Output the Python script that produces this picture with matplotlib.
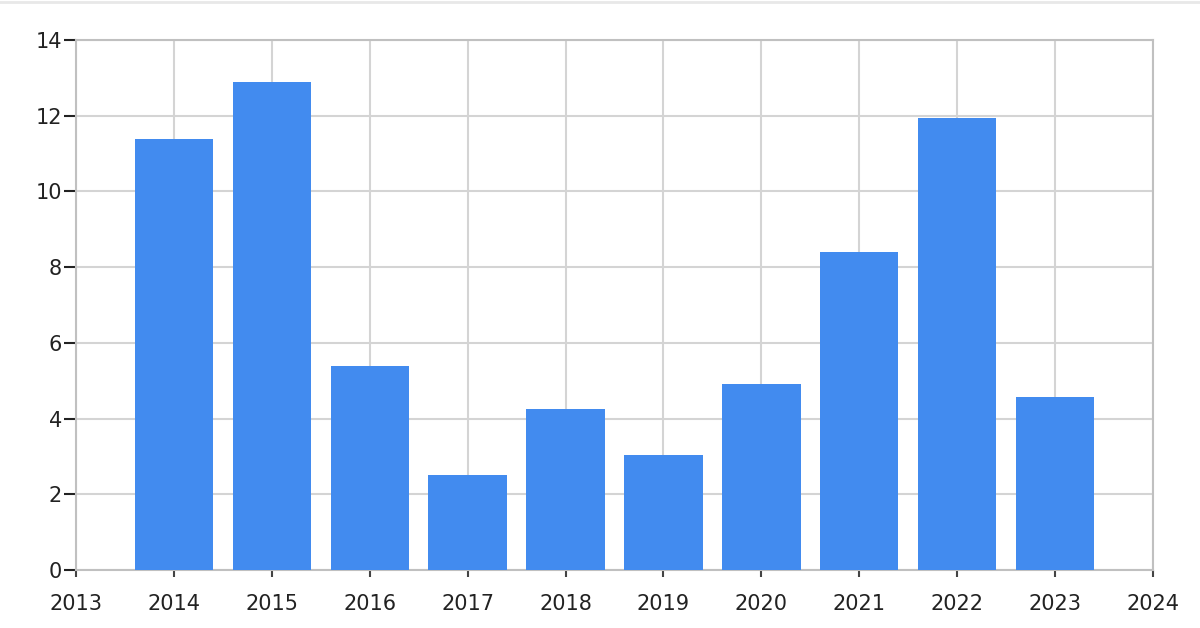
import matplotlib
matplotlib.use("Agg")
import matplotlib.pyplot as plt
from matplotlib.lines import Line2D

years = [2014, 2015, 2016, 2017, 2018, 2019, 2020, 2021, 2022, 2023]
values = [11.38, 12.9, 5.4, 2.51, 4.25, 3.04, 4.92, 8.41, 11.95, 4.58]
x_ticks = list(range(2013, 2025))
y_ticks = [0, 2, 4, 6, 8, 10, 12, 14]

fig = plt.figure(figsize=(12, 6.28), dpi=100)
ax = fig.add_axes([76/1200, 58/628, (1153-76)/1200, (570-40)/628])

ax.bar(years, values, width=0.8, color="#428BEF", zorder=3)

ax.set_xlim(2013, 2024)
ax.set_ylim(0, 14)
ax.set_xticks(x_ticks)
ax.set_xticklabels([str(t) for t in x_ticks])
ax.set_yticks(y_ticks)
ax.set_yticklabels([str(t) for t in y_ticks])

ax.grid(True, color="#d4d4d4", linewidth=1.5, zorder=0)
ax.set_axisbelow(True)
for s in ax.spines.values():
    s.set_color("#c0c0c0")
    s.set_linewidth(1.5)

ax.tick_params(axis="y", length=9, width=1.5, color="#222222", pad=1,
               labelsize=15, labelcolor="#222222")
ax.tick_params(axis="x", length=5, width=1.5, color="#444444", pad=12,
               labelsize=15, labelcolor="#222222")

fig.add_artist(Line2D([0, 1], [0.997, 0.997], transform=fig.transFigure,
                      color="#e8e8e8", linewidth=2))

fig.savefig("out.png", dpi=100)
